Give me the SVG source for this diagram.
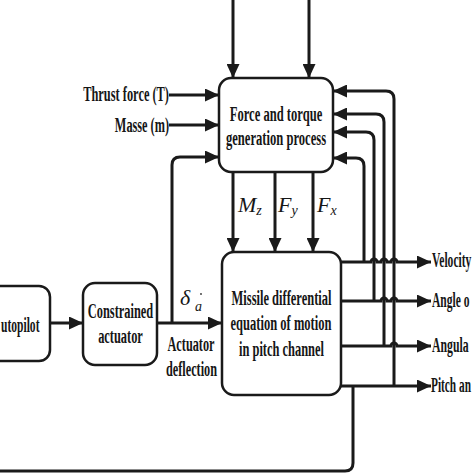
<svg xmlns="http://www.w3.org/2000/svg" width="474" height="474" viewBox="0 0 474 474">
<style>
.box{fill:#fff;stroke:#1a1a1a;stroke-width:2.5}
.c{fill:none;stroke:#1a1a1a;stroke-width:3}
.t{font-family:"Liberation Serif","Times New Roman",serif;font-weight:bold;font-size:21px;fill:#161616}
.mid{text-anchor:middle}
.end{text-anchor:end}
.m{font-family:"Liberation Serif","Times New Roman",serif;font-style:italic;font-size:22px;fill:#161616}
.s{font-size:14px}
</style>
<defs>
<marker id="ah" markerUnits="userSpaceOnUse" markerWidth="15" markerHeight="13" refX="14" refY="6.5" orient="auto">
<path d="M0,0 L14,6.5 L0,13 z" fill="#1a1a1a"/>
</marker>
</defs>
<rect width="474" height="474" fill="#fff"/>
<g id="connectors">
<path class="c" d="M233,0 V78" marker-end="url(#ah)"/>
<path class="c" d="M309,0 V78" marker-end="url(#ah)"/>
<path class="c" d="M169,95 H219" marker-end="url(#ah)"/>
<path class="c" d="M169,125 H219" marker-end="url(#ah)"/>
<path class="c" d="M172,323 V165 Q172,157 180,157 H219" marker-end="url(#ah)"/>
<path class="c" d="M50,323 H83" marker-end="url(#ah)"/>
<path class="c" d="M157,323 H222" marker-end="url(#ah)"/>
<path class="c" d="M233,172 V252" marker-end="url(#ah)"/>
<path class="c" d="M275,172 V252" marker-end="url(#ah)"/>
<path class="c" d="M313,172 V252" marker-end="url(#ah)"/>
<path class="c" d="M341,262 H371 a3,3 0 0 1 6,0 H381 a3,3 0 0 1 6,0 H391 a3,3 0 0 1 6,0 H431" marker-end="url(#ah)"/>
<path class="c" d="M341,301 H381 a3,3 0 0 1 6,0 H391 a3,3 0 0 1 6,0 H431" marker-end="url(#ah)"/>
<path class="c" d="M341,346 H391 a3,3 0 0 1 6,0 H431" marker-end="url(#ah)"/>
<path class="c" d="M341,386 H431" marker-end="url(#ah)"/>
<path class="c" d="M364,263 V166 Q364,158 356,158 H333" marker-end="url(#ah)"/>
<path class="c" d="M374,302 V140 Q374,132 366,132 H333" marker-end="url(#ah)"/>
<path class="c" d="M384,347 V122 Q384,114 376,114 H333" marker-end="url(#ah)"/>
<path class="c" d="M394,386 V99 Q394,91 386,91 H333" marker-end="url(#ah)"/>
<path class="c" d="M353,386 V463 Q353,471 345,471 H0" stroke="#333"/>
</g>
<g id="autopilot">
<rect class="box" x="-20" y="286" width="70" height="75" rx="11"/>
<text class="t" transform="translate(1,332) scale(0.55,1)">utopilot</text>
</g>
<g id="constrained-actuator">
<rect class="box" x="83" y="283" width="74" height="82" rx="12"/>
<text class="t mid" transform="translate(120.5,318) scale(0.59,1)">Constrained</text>
<text class="t mid" transform="translate(120.5,343) scale(0.59,1)">actuator</text>
</g>
<g id="force-torque">
<rect class="box" x="219" y="78" width="114" height="94" rx="12"/>
<text class="t mid" transform="translate(276,121) scale(0.6,1)">Force and torque</text>
<text class="t mid" transform="translate(276,145) scale(0.6,1)">generation process</text>
</g>
<g id="missile">
<rect class="box" x="222" y="252" width="119" height="143" rx="12"/>
<text class="t mid" transform="translate(281.5,305) scale(0.595,1)">Missile differential</text>
<text class="t mid" transform="translate(281,330) scale(0.597,1)">equation of motion</text>
<text class="t mid" transform="translate(281.5,356) scale(0.593,1)">in pitch channel</text>
</g>
<g id="labels">
<text class="t end" transform="translate(169,101) scale(0.59,1)">Thrust force (T)</text>
<text class="t end" transform="translate(169,132) scale(0.585,1)">Masse (m)</text>
<text class="t mid" transform="translate(191,351) scale(0.585,1)">Actuator</text>
<text class="t mid" transform="translate(191.5,376) scale(0.585,1)">deflection</text>
<text class="m" x="180" y="305">δ</text>
<text class="m s" x="195" y="311">a</text>
<circle cx="201" cy="294" r="0.9" fill="#333"/>
<text class="m" x="238" y="212">M<tspan class="s" dy="3">z</tspan></text>
<text class="m" x="278" y="212">F<tspan class="s" dy="3">y</tspan></text>
<text class="m" x="317" y="212">F<tspan class="s" dy="3">x</tspan></text>
<text class="t" transform="translate(432,267) scale(0.55,1)">Velocity</text>
<text class="t" transform="translate(432,307) scale(0.55,1)">Angle o</text>
<text class="t" transform="translate(432,352) scale(0.56,1)">Angula</text>
<text class="t" transform="translate(431,392) scale(0.54,1)">Pitch an</text>
</g>
</svg>
